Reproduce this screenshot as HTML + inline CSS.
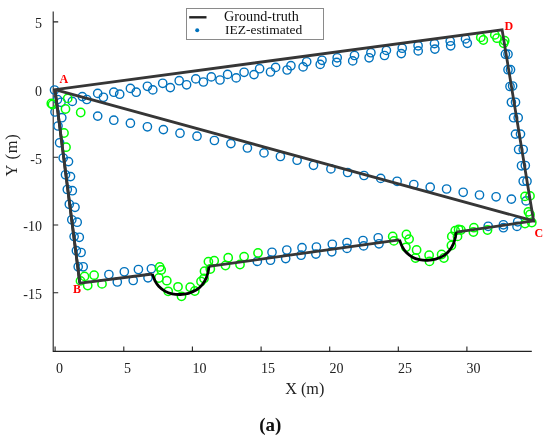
<!DOCTYPE html>
<html><head><meta charset="utf-8"><title>Figure (a)</title>
<style>
html,body{margin:0;padding:0;background:#fff}
#f{position:relative;width:550px;height:440px;overflow:hidden;background:#fff;font-family:"Liberation Serif",serif;color:#222}
.t{position:absolute;white-space:nowrap;line-height:1}
.xt{font-size:14px;top:362.2px}
.yt{font-size:14px;text-align:right;width:40px;left:2px}
.r{color:#f00;font-weight:bold;font-size:12px}
.lg{font-size:13.5px;color:#111}
</style></head><body><div id="f">
<svg width="550" height="440" viewBox="0 0 550 440" style="position:absolute;left:0;top:0">
<g fill="none" stroke="#222" stroke-width="1.1">
<path d="M53.2 11.5V351.4H531.8"/>
<path d="M53.2 21.9h5M53.2 89.6h5M53.2 157.3h5M53.2 225h5M53.2 292.7h5"/>
<path d="M55.1 351.4v-5M123.8 351.4v-5M192.4 351.4v-5M261.1 351.4v-5M329.7 351.4v-5M398.3 351.4v-5M466.9 351.4v-5"/>
</g>
<g fill="none" stroke="#0072BD" stroke-width="1.4">
<circle cx="54.5" cy="90" r="4.15"/>
<circle cx="57.5" cy="99.5" r="4.15"/>
<circle cx="61" cy="102.3" r="4.15"/>
<circle cx="72.3" cy="101.4" r="4.15"/>
<circle cx="82.3" cy="96.6" r="4.15"/>
<circle cx="86.8" cy="99.5" r="4.15"/>
<circle cx="97.7" cy="93.4" r="4.15"/>
<circle cx="103.4" cy="97.3" r="4.15"/>
<circle cx="113.8" cy="92.2" r="4.15"/>
<circle cx="130.4" cy="88.4" r="4.15"/>
<circle cx="147.4" cy="86.3" r="4.15"/>
<circle cx="162.7" cy="83.3" r="4.15"/>
<circle cx="179.2" cy="80.7" r="4.15"/>
<circle cx="195.8" cy="78.9" r="4.15"/>
<circle cx="211.3" cy="76.9" r="4.15"/>
<circle cx="227.6" cy="74.4" r="4.15"/>
<circle cx="244.1" cy="72.3" r="4.15"/>
<circle cx="259.6" cy="68.7" r="4.15"/>
<circle cx="275.6" cy="67.4" r="4.15"/>
<circle cx="290.9" cy="65.7" r="4.15"/>
<circle cx="306.7" cy="61.8" r="4.15"/>
<circle cx="322" cy="60.3" r="4.15"/>
<circle cx="337.2" cy="57.8" r="4.15"/>
<circle cx="354.5" cy="55.5" r="4.15"/>
<circle cx="370.9" cy="52.7" r="4.15"/>
<circle cx="386.4" cy="50.4" r="4.15"/>
<circle cx="402.2" cy="48.2" r="4.15"/>
<circle cx="418.1" cy="45.8" r="4.15"/>
<circle cx="434.5" cy="43.6" r="4.15"/>
<circle cx="450.2" cy="41.2" r="4.15"/>
<circle cx="465.5" cy="38.9" r="4.15"/>
<circle cx="119.7" cy="94.2" r="4.15"/>
<circle cx="136.2" cy="92.2" r="4.15"/>
<circle cx="152.8" cy="89.9" r="4.15"/>
<circle cx="170.3" cy="87.6" r="4.15"/>
<circle cx="186.6" cy="84.8" r="4.15"/>
<circle cx="203.4" cy="82" r="4.15"/>
<circle cx="220" cy="80" r="4.15"/>
<circle cx="236.2" cy="77.9" r="4.15"/>
<circle cx="254" cy="74.6" r="4.15"/>
<circle cx="270.5" cy="72" r="4.15"/>
<circle cx="287.1" cy="70" r="4.15"/>
<circle cx="303.1" cy="66.9" r="4.15"/>
<circle cx="320.2" cy="64.4" r="4.15"/>
<circle cx="336.7" cy="62.4" r="4.15"/>
<circle cx="352.7" cy="60.9" r="4.15"/>
<circle cx="369.1" cy="57.8" r="4.15"/>
<circle cx="384.5" cy="55.5" r="4.15"/>
<circle cx="401.3" cy="53.6" r="4.15"/>
<circle cx="418.2" cy="50.9" r="4.15"/>
<circle cx="434.9" cy="49.1" r="4.15"/>
<circle cx="450.7" cy="45.8" r="4.15"/>
<circle cx="467.3" cy="43.3" r="4.15"/>
<circle cx="505.4" cy="54.2" r="4.15"/>
<circle cx="508" cy="54.2" r="4.15"/>
<circle cx="508" cy="69.7" r="4.15"/>
<circle cx="510.5" cy="69.7" r="4.15"/>
<circle cx="510" cy="86.5" r="4.15"/>
<circle cx="512.6" cy="86" r="4.15"/>
<circle cx="511.4" cy="102.3" r="4.15"/>
<circle cx="515.5" cy="102.3" r="4.15"/>
<circle cx="513.6" cy="117.7" r="4.15"/>
<circle cx="518.2" cy="117.7" r="4.15"/>
<circle cx="515.5" cy="134.1" r="4.15"/>
<circle cx="520.5" cy="134.1" r="4.15"/>
<circle cx="518.6" cy="149.5" r="4.15"/>
<circle cx="523.2" cy="149.5" r="4.15"/>
<circle cx="521.5" cy="165.8" r="4.15"/>
<circle cx="525.3" cy="165.5" r="4.15"/>
<circle cx="523.2" cy="181.2" r="4.15"/>
<circle cx="527" cy="181.2" r="4.15"/>
<circle cx="526.1" cy="200.9" r="4.15"/>
<circle cx="97.7" cy="116.1" r="4.15"/>
<circle cx="113.8" cy="120.2" r="4.15"/>
<circle cx="130.4" cy="123.2" r="4.15"/>
<circle cx="147.4" cy="126.8" r="4.15"/>
<circle cx="163.4" cy="129.6" r="4.15"/>
<circle cx="180" cy="133.2" r="4.15"/>
<circle cx="197" cy="136.2" r="4.15"/>
<circle cx="214.4" cy="140.5" r="4.15"/>
<circle cx="230.9" cy="143.6" r="4.15"/>
<circle cx="247.4" cy="148" r="4.15"/>
<circle cx="264" cy="152.9" r="4.15"/>
<circle cx="280.4" cy="156.5" r="4.15"/>
<circle cx="297.1" cy="160.2" r="4.15"/>
<circle cx="313.5" cy="165.3" r="4.15"/>
<circle cx="330.9" cy="168.9" r="4.15"/>
<circle cx="347.6" cy="172.5" r="4.15"/>
<circle cx="364" cy="175.5" r="4.15"/>
<circle cx="380.7" cy="178.4" r="4.15"/>
<circle cx="397.1" cy="181.3" r="4.15"/>
<circle cx="413.8" cy="184.5" r="4.15"/>
<circle cx="430.2" cy="187.2" r="4.15"/>
<circle cx="446.6" cy="189" r="4.15"/>
<circle cx="463.2" cy="192.3" r="4.15"/>
<circle cx="479.5" cy="195" r="4.15"/>
<circle cx="496.1" cy="196.8" r="4.15"/>
<circle cx="511.4" cy="199.1" r="4.15"/>
<circle cx="517.7" cy="221.8" r="4.15"/>
<circle cx="517" cy="226.4" r="4.15"/>
<circle cx="503.4" cy="224.8" r="4.15"/>
<circle cx="503.4" cy="227.7" r="4.15"/>
<circle cx="488.2" cy="226.3" r="4.15"/>
<circle cx="257.3" cy="261.4" r="4.15"/>
<circle cx="272" cy="252.3" r="4.15"/>
<circle cx="270.5" cy="260.2" r="4.15"/>
<circle cx="286.8" cy="250" r="4.15"/>
<circle cx="285.7" cy="258.6" r="4.15"/>
<circle cx="302" cy="247.7" r="4.15"/>
<circle cx="301.1" cy="255.2" r="4.15"/>
<circle cx="316.4" cy="247" r="4.15"/>
<circle cx="315.9" cy="254.1" r="4.15"/>
<circle cx="332.3" cy="244.3" r="4.15"/>
<circle cx="331.8" cy="251.8" r="4.15"/>
<circle cx="347" cy="242.5" r="4.15"/>
<circle cx="347" cy="248.4" r="4.15"/>
<circle cx="363" cy="240.5" r="4.15"/>
<circle cx="363.6" cy="245.9" r="4.15"/>
<circle cx="378.2" cy="237.8" r="4.15"/>
<circle cx="379" cy="243.8" r="4.15"/>
<circle cx="108.9" cy="274.5" r="4.15"/>
<circle cx="117.3" cy="282" r="4.15"/>
<circle cx="124.3" cy="271.8" r="4.15"/>
<circle cx="133.2" cy="280.5" r="4.15"/>
<circle cx="138.4" cy="269.5" r="4.15"/>
<circle cx="148" cy="277.8" r="4.15"/>
<circle cx="151.4" cy="268.8" r="4.15"/>
<circle cx="55" cy="112" r="4.15"/>
<circle cx="61.8" cy="117.7" r="4.15"/>
<circle cx="58" cy="126" r="4.15"/>
<circle cx="59.6" cy="142.8" r="4.15"/>
<circle cx="63.2" cy="158" r="4.15"/>
<circle cx="68.5" cy="161.6" r="4.15"/>
<circle cx="65.5" cy="174.8" r="4.15"/>
<circle cx="70.5" cy="176.6" r="4.15"/>
<circle cx="67.3" cy="189.5" r="4.15"/>
<circle cx="72.3" cy="190.7" r="4.15"/>
<circle cx="69.3" cy="204.3" r="4.15"/>
<circle cx="75" cy="207.3" r="4.15"/>
<circle cx="71.8" cy="219.8" r="4.15"/>
<circle cx="77.2" cy="222.2" r="4.15"/>
<circle cx="74.1" cy="236.6" r="4.15"/>
<circle cx="79.3" cy="237.3" r="4.15"/>
<circle cx="76.4" cy="250.7" r="4.15"/>
<circle cx="81.1" cy="252.5" r="4.15"/>
<circle cx="78.2" cy="266.8" r="4.15"/>
<circle cx="83.2" cy="266.8" r="4.15"/>
</g>
<g fill="none" stroke="#00FF00" stroke-width="1.5">
<circle cx="51.3" cy="103.5" r="4.15"/>
<circle cx="52.5" cy="104.5" r="4.15"/>
<circle cx="67.7" cy="98.4" r="4.15"/>
<circle cx="65.5" cy="109" r="4.15"/>
<circle cx="80.7" cy="112.5" r="4.15"/>
<circle cx="64" cy="133" r="4.15"/>
<circle cx="66" cy="147.2" r="4.15"/>
<circle cx="480.8" cy="37.4" r="4.15"/>
<circle cx="483.3" cy="40" r="4.15"/>
<circle cx="494.8" cy="34.9" r="4.15"/>
<circle cx="497" cy="38.2" r="4.15"/>
<circle cx="504.7" cy="40.7" r="4.15"/>
<circle cx="503.7" cy="43.3" r="4.15"/>
<circle cx="525" cy="196.4" r="4.15"/>
<circle cx="530" cy="195.9" r="4.15"/>
<circle cx="528.4" cy="211.8" r="4.15"/>
<circle cx="530" cy="214.5" r="4.15"/>
<circle cx="531.8" cy="222.5" r="4.15"/>
<circle cx="525" cy="223.6" r="4.15"/>
<circle cx="487.5" cy="230" r="4.15"/>
<circle cx="473.9" cy="227.7" r="4.15"/>
<circle cx="473.4" cy="232" r="4.15"/>
<circle cx="455.2" cy="230.7" r="4.15"/>
<circle cx="458.6" cy="229.5" r="4.15"/>
<circle cx="460.9" cy="230" r="4.15"/>
<circle cx="457.5" cy="236.4" r="4.15"/>
<circle cx="451.8" cy="236.4" r="4.15"/>
<circle cx="451.4" cy="245.5" r="4.15"/>
<circle cx="443.9" cy="258" r="4.15"/>
<circle cx="441.6" cy="254.5" r="4.15"/>
<circle cx="429.1" cy="255.2" r="4.15"/>
<circle cx="429.5" cy="261.4" r="4.15"/>
<circle cx="416.6" cy="250" r="4.15"/>
<circle cx="415.5" cy="258" r="4.15"/>
<circle cx="405.9" cy="247.3" r="4.15"/>
<circle cx="409.1" cy="239.1" r="4.15"/>
<circle cx="406.4" cy="234.5" r="4.15"/>
<circle cx="392.7" cy="236.4" r="4.15"/>
<circle cx="393.9" cy="240.9" r="4.15"/>
<circle cx="159.7" cy="267" r="4.15"/>
<circle cx="161.2" cy="270" r="4.15"/>
<circle cx="158.9" cy="278" r="4.15"/>
<circle cx="166.8" cy="280.7" r="4.15"/>
<circle cx="168.2" cy="291.3" r="4.15"/>
<circle cx="178" cy="286.8" r="4.15"/>
<circle cx="181.5" cy="296.3" r="4.15"/>
<circle cx="190.2" cy="287.2" r="4.15"/>
<circle cx="194.8" cy="291" r="4.15"/>
<circle cx="201" cy="281.5" r="4.15"/>
<circle cx="204" cy="278.5" r="4.15"/>
<circle cx="204.5" cy="271.2" r="4.15"/>
<circle cx="208.4" cy="261.6" r="4.15"/>
<circle cx="214.2" cy="260.7" r="4.15"/>
<circle cx="210.3" cy="269" r="4.15"/>
<circle cx="228.2" cy="257.7" r="4.15"/>
<circle cx="225.5" cy="265.5" r="4.15"/>
<circle cx="244.1" cy="256.6" r="4.15"/>
<circle cx="240" cy="264.5" r="4.15"/>
<circle cx="258" cy="253" r="4.15"/>
<circle cx="84.5" cy="276.4" r="4.15"/>
<circle cx="94.1" cy="275.2" r="4.15"/>
<circle cx="80.5" cy="280.9" r="4.15"/>
<circle cx="87.7" cy="285.5" r="4.15"/>
<circle cx="102" cy="283.9" r="4.15"/>
</g>
<g fill="none" stroke="#363636" stroke-width="2.8" stroke-linejoin="miter" stroke-linecap="butt">
<path d="M79.8 283.1L55 89.6L502.1 29.8L533.6 220.9L55 89.6"/>
<path d="M55 89.6L79.8 283.1L152.3 274"/>
<path d="M208.9 266.4L399.5 239.8"/>
<path d="M456.1 232.2L533.6 220.9"/>
</g>
<g fill="none" stroke="#000" stroke-width="2.8">
<path d="M152.3 274.0C152.8 275.1 153.9 278.8 155.0 280.8C156.1 282.8 157.0 284.4 158.7 286.2C160.4 288.0 163.1 290.1 165.3 291.4C167.5 292.7 169.6 293.3 172.1 293.8C174.6 294.3 177.6 294.6 180.3 294.5C183.0 294.4 185.7 294.1 188.4 293.3C191.1 292.5 194.3 291.2 196.6 289.8C198.9 288.4 200.5 286.8 202.1 284.9C203.7 282.9 205.2 280.4 206.2 278.1C207.2 275.8 207.8 273.2 208.2 271.2C208.7 269.3 208.8 267.2 208.9 266.4"/>
<path d="M399.5 239.8C399.9 240.9 401.1 244.6 402.2 246.6C403.3 248.6 404.2 250.2 405.9 252.0C407.6 253.8 410.3 255.9 412.5 257.2C414.7 258.5 416.8 259.1 419.3 259.6C421.8 260.1 424.8 260.4 427.5 260.3C430.2 260.2 432.9 259.9 435.6 259.1C438.3 258.3 441.5 257.0 443.8 255.6C446.1 254.2 447.7 252.7 449.3 250.7C450.9 248.8 452.4 246.2 453.4 243.9C454.4 241.6 454.9 239.0 455.4 237.1C455.8 235.1 456.0 233.0 456.1 232.2"/>
</g>
<rect x="186.5" y="8.5" width="137" height="31" fill="#fff" stroke="#8a8a8a" stroke-width="1"/>
<path d="M189.2 17.3H206.5" stroke="#222" stroke-width="2.4"/>
<circle cx="197.2" cy="30.3" r="2" fill="#0072BD"/>
</svg>
<div class="t lg" style="left:224px;top:8.5px;font-size:14.2px">Ground-truth</div>
<div class="t lg" style="left:225px;top:23px">IEZ-estimated</div>
<div class="t xt" style="left:56px">0</div>
<div class="t xt" style="left:124px">5</div>
<div class="t xt" style="left:192.5px">10</div>
<div class="t xt" style="left:261px">15</div>
<div class="t xt" style="left:329.5px">20</div>
<div class="t xt" style="left:398px">25</div>
<div class="t xt" style="left:466.5px">30</div>
<div class="t yt" style="top:17px">5</div>
<div class="t yt" style="top:84.5px">0</div>
<div class="t yt" style="top:152.5px">-5</div>
<div class="t yt" style="top:220px">-10</div>
<div class="t yt" style="top:287.5px">-15</div>
<div class="t" style="left:285.2px;top:380.5px;font-size:16.2px">X (m)</div>
<div class="t" style="left:12px;top:154.5px;font-size:16.5px;letter-spacing:0.7px;transform:translate(-50%,-50%) rotate(-90deg)">Y (m)</div>
<div class="t" style="left:259.3px;top:414.5px;font-size:19px;font-weight:bold;color:#111">(a)</div>
<div class="t r" style="left:59.5px;top:73px">A</div>
<div class="t r" style="left:73px;top:283px">B</div>
<div class="t r" style="left:534.5px;top:226.5px">C</div>
<div class="t r" style="left:504.5px;top:20px">D</div>
</div></body></html>
